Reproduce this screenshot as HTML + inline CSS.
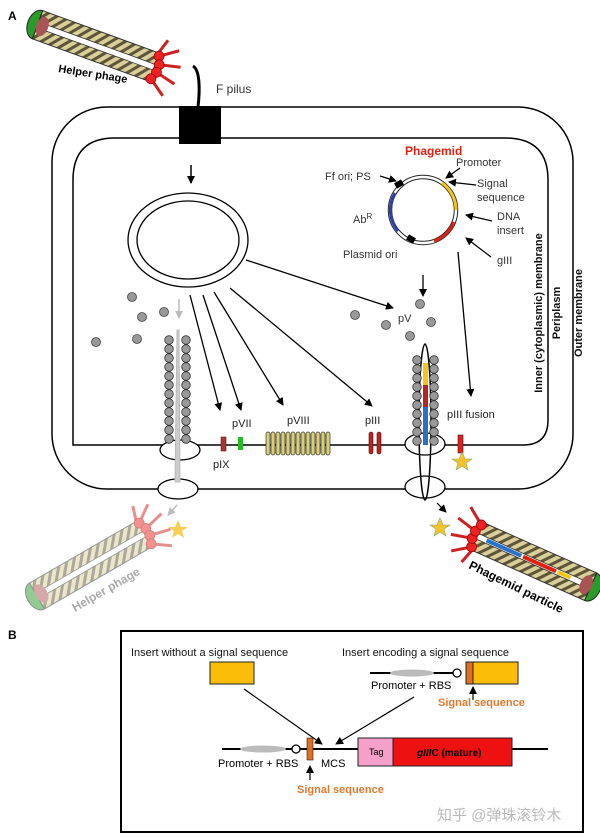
<!DOCTYPE html>
<html><head><meta charset="utf-8"><style>
body{margin:0;background:#fff}
svg{display:block}
text{font-family:"Liberation Sans","Noto Sans CJK SC",sans-serif}
</style></head><body>
<svg width="600" height="837" viewBox="0 0 600 837" xmlns="http://www.w3.org/2000/svg">
<defs>
<marker id="ah" markerWidth="8" markerHeight="8" refX="7" refY="4" orient="auto" markerUnits="userSpaceOnUse"><path d="M0,0 L8,4 L0,8 z" fill="#000"/></marker>
<marker id="ahg" markerWidth="8" markerHeight="8" refX="7" refY="4" orient="auto" markerUnits="userSpaceOnUse"><path d="M0,0 L8,4 L0,8 z" fill="#bbb"/></marker>
<pattern id="hatch" width="7" height="7" patternUnits="userSpaceOnUse" patternTransform="rotate(40)"><rect width="7" height="7" fill="#d8cf9a"/><rect width="3" height="7" fill="#5e5538"/></pattern>
<g id="phage">
<rect x="8" y="-15" width="125" height="30" fill="url(#hatch)" stroke="#333" stroke-width="1"/>
<rect x="10" y="-3" width="122" height="6" fill="#fff" stroke="#333" stroke-width="0.8"/>
<path d="M8,-15 A10,15 0 0 0 8,15 Z" fill="#2a9a2a" stroke="#222"/>
<ellipse cx="13" cy="0" rx="6" ry="10" fill="#a55"/>
<g fill="#e22" stroke="#900" stroke-width="0.8">
<line x1="133" y1="-12" x2="150" y2="-24" stroke="#c22" stroke-width="3"/>
<line x1="136" y1="-4" x2="157" y2="-9" stroke="#c22" stroke-width="3"/>
<line x1="136" y1="4" x2="157" y2="9" stroke="#c22" stroke-width="3"/>
<line x1="133" y1="12" x2="150" y2="24" stroke="#c22" stroke-width="3"/>
<line x1="131" y1="-14" x2="136" y2="-30" stroke="#c22" stroke-width="3"/>
<circle cx="133" cy="-12" r="5"/><circle cx="136" cy="-4" r="5"/><circle cx="136" cy="4" r="5"/><circle cx="133" cy="12" r="5"/>
</g>
</g>
</defs>

<text x="8" y="20" font-size="12" font-weight="bold">A</text>
<use href="#phage" transform="translate(30,22) rotate(20)"/>
<text x="58" y="72" font-size="11" font-weight="bold" transform="rotate(9 58 72)">Helper phage</text>
<path d="M193,66 C200,70 200,90 198,107" stroke="#000" stroke-width="3" fill="none"/>
<text x="216" y="93" font-size="12" fill="#333">F pilus</text>

<rect x="52" y="107" width="521" height="382" rx="55" fill="none" stroke="#000" stroke-width="1.5"/>
<path d="M73,445 L73,180 Q73,138 115,138 L505,138 Q548,138 548,180 L548,420 Q548,445 523,445 Z" fill="none" stroke="#000" stroke-width="1.5"/>
<rect x="179" y="106" width="42" height="38" fill="#000"/>
<line x1="191" y1="165" x2="191" y2="183" stroke="#000" stroke-width="1.5" marker-end="url(#ah)"/>

<ellipse cx="188" cy="240" rx="60" ry="47" fill="#fff" stroke="#000" stroke-width="1.3"/>
<ellipse cx="188" cy="240" rx="51" ry="39" fill="none" stroke="#000" stroke-width="1.3"/>

<g stroke="#000" stroke-width="1.3" fill="none" marker-end="url(#ah)">
<line x1="190" y1="295" x2="220" y2="410"/>
<line x1="203" y1="295" x2="241" y2="410"/>
<line x1="214" y1="292" x2="283" y2="405"/>
<line x1="230" y1="288" x2="372" y2="406"/>
<line x1="246" y1="260" x2="393" y2="308"/>
<line x1="423" y1="275" x2="423" y2="296"/>
<line x1="458" y1="252" x2="471" y2="396"/>
</g>

<g fill="#999" stroke="#444" stroke-width="0.8">
<circle cx="132" cy="297" r="4.5"/><circle cx="142" cy="317" r="4.5"/><circle cx="164" cy="312" r="4.5"/><circle cx="137" cy="339" r="4.5"/><circle cx="96" cy="342" r="4.5"/>
<circle cx="355" cy="315" r="4.5"/><circle cx="386" cy="325" r="4.5"/><circle cx="420" cy="304" r="4.5"/><circle cx="431" cy="322" r="4.5"/><circle cx="410" cy="336" r="4.5"/>
</g>
<text x="398" y="322" font-size="11" fill="#333">pV</text>

<ellipse cx="180" cy="450" rx="20" ry="10" fill="#fff" stroke="#000" stroke-width="1.3"/>
<ellipse cx="178" cy="489" rx="20" ry="10" fill="#fff" stroke="#000" stroke-width="1.3"/>
<g fill="#999" stroke="#333" stroke-width="0.8">
<circle cx="169" cy="340" r="4.3"/><circle cx="169" cy="349" r="4.3"/><circle cx="169" cy="358" r="4.3"/><circle cx="169" cy="367" r="4.3"/><circle cx="169" cy="376" r="4.3"/><circle cx="169" cy="385" r="4.3"/><circle cx="169" cy="394" r="4.3"/><circle cx="169" cy="403" r="4.3"/><circle cx="169" cy="412" r="4.3"/><circle cx="169" cy="421" r="4.3"/><circle cx="169" cy="430" r="4.3"/><circle cx="169" cy="439" r="4.3"/>
<circle cx="186" cy="340" r="4.3"/><circle cx="186" cy="349" r="4.3"/><circle cx="186" cy="358" r="4.3"/><circle cx="186" cy="367" r="4.3"/><circle cx="186" cy="376" r="4.3"/><circle cx="186" cy="385" r="4.3"/><circle cx="186" cy="394" r="4.3"/><circle cx="186" cy="403" r="4.3"/><circle cx="186" cy="412" r="4.3"/><circle cx="186" cy="421" r="4.3"/><circle cx="186" cy="430" r="4.3"/><circle cx="186" cy="439" r="4.3"/>
</g>
<path d="M177,330 L175,482 L180,482 L179,330 Z" fill="#ccc" stroke="#bbb"/>
<line x1="179" y1="299" x2="179" y2="318" stroke="#bbb" stroke-width="1.5" marker-end="url(#ahg)"/>
<line x1="177" y1="505" x2="168" y2="515" stroke="#bbb" stroke-width="1.5" marker-end="url(#ahg)"/>

<rect x="221" y="437" width="5" height="14" fill="#a33" stroke="#522" stroke-width="0.6"/>
<rect x="238" y="437" width="5" height="13" fill="#2b2"/>
<g fill="#d8cf7a" stroke="#333" stroke-width="0.7">
<rect x="266" y="432" width="4" height="23" rx="2"/><rect x="271" y="432" width="4" height="23" rx="2"/><rect x="276" y="432" width="4" height="23" rx="2"/><rect x="281" y="432" width="4" height="23" rx="2"/><rect x="286" y="432" width="4" height="23" rx="2"/><rect x="291" y="432" width="4" height="23" rx="2"/><rect x="296" y="432" width="4" height="23" rx="2"/><rect x="301" y="432" width="4" height="23" rx="2"/><rect x="306" y="432" width="4" height="23" rx="2"/><rect x="311" y="432" width="4" height="23" rx="2"/><rect x="316" y="432" width="4" height="23" rx="2"/><rect x="321" y="432" width="4" height="23" rx="2"/><rect x="326" y="432" width="4" height="23" rx="2"/>
</g>
<rect x="369" y="432" width="4" height="22" rx="2" fill="#b22" stroke="#511" stroke-width="0.6"/>
<rect x="377" y="432" width="4" height="22" rx="2" fill="#b22" stroke="#511" stroke-width="0.6"/>
<g font-size="11" fill="#222">
<text x="232" y="427">pVII</text><text x="287" y="424">pVIII</text><text x="365" y="424">pIII</text><text x="213" y="468">pIX</text>
<text x="447" y="418">pIII fusion</text>
</g>

<ellipse cx="425" cy="444" rx="20" ry="11" fill="#fff" stroke="#000" stroke-width="1.3"/>
<ellipse cx="425" cy="487" rx="20" ry="11" fill="#fff" stroke="#000" stroke-width="1.3"/>
<ellipse cx="425" cy="422" rx="6" ry="78" fill="none" stroke="#000" stroke-width="1.5"/>
<g fill="#999" stroke="#333" stroke-width="0.8">
<circle cx="417" cy="360" r="4.3"/><circle cx="417" cy="369" r="4.3"/><circle cx="417" cy="378" r="4.3"/><circle cx="417" cy="387" r="4.3"/><circle cx="417" cy="396" r="4.3"/><circle cx="417" cy="405" r="4.3"/><circle cx="417" cy="414" r="4.3"/><circle cx="417" cy="423" r="4.3"/><circle cx="417" cy="432" r="4.3"/><circle cx="417" cy="441" r="4.3"/>
<circle cx="434" cy="360" r="4.3"/><circle cx="434" cy="369" r="4.3"/><circle cx="434" cy="378" r="4.3"/><circle cx="434" cy="387" r="4.3"/><circle cx="434" cy="396" r="4.3"/><circle cx="434" cy="405" r="4.3"/><circle cx="434" cy="414" r="4.3"/><circle cx="434" cy="423" r="4.3"/><circle cx="434" cy="432" r="4.3"/><circle cx="434" cy="441" r="4.3"/>
</g>
<rect x="423" y="363" width="5" height="22" fill="#f5c518"/>
<rect x="423" y="385" width="5" height="22" fill="#b22"/>
<rect x="423" y="407" width="5" height="38" fill="#2a72c8"/>
<rect x="458" y="435" width="5" height="18" fill="#d22" stroke="#511" stroke-width="0.6"/>
<polygon points="462,452 465,459 472,459 466,463 468,470 462,466 456,470 458,463 452,459 459,459" fill="#f7c22a" stroke="#8a6" stroke-width="0.6"/>

<text x="405" y="155" font-size="12" font-weight="bold" fill="#d21">Phagemid</text>
<circle cx="423" cy="210" r="33" fill="none" stroke="#222" stroke-width="4.5"/>
<circle cx="423" cy="210" r="33" fill="none" stroke="#fff" stroke-width="2.5"/>
<path d="M456,210 A33,33 0 0 0 442,183" fill="none" stroke="#f5c518" stroke-width="3"/>
<path d="M434,241 A33,33 0 0 0 454,222" fill="none" stroke="#d21" stroke-width="3"/>
<path d="M395,193 A33,33 0 0 0 398,231" fill="none" stroke="#2a3fb0" stroke-width="3"/>
<rect x="395" y="181" width="8" height="6" fill="#000" transform="rotate(-30 399 184)"/>
<rect x="407" y="236" width="8" height="6" fill="#000" transform="rotate(30 411 239)"/>
<g font-size="11" fill="#333">
<text x="325" y="180">Ff ori; PS</text>
<text x="456" y="166">Promoter</text>
<text x="477" y="187">Signal</text><text x="477" y="201">sequence</text>
<text x="497" y="220">DNA</text><text x="497" y="234">insert</text>
<text x="497" y="264">gIII</text>
<text x="353" y="223">Ab<tspan font-size="8" dy="-4">R</tspan></text>
<text x="343" y="258">Plasmid ori</text>
</g>
<g stroke="#000" stroke-width="1.2" marker-end="url(#ah)">
<line x1="380" y1="176" x2="396" y2="181"/>
<line x1="460" y1="168" x2="446" y2="178"/>
<line x1="476" y1="185" x2="449" y2="182"/>
<line x1="492" y1="221" x2="466" y2="215"/>
<line x1="491" y1="257" x2="466" y2="238"/>
</g>

<g font-size="11" font-weight="bold" fill="#111">
<text transform="translate(542,313) rotate(-90)" text-anchor="middle">Inner (cytoplasmic) membrane</text>
<text transform="translate(560,313) rotate(-90)" text-anchor="middle">Periplasm</text>
<text transform="translate(582,313) rotate(-90)" text-anchor="middle">Outer membrane</text>
</g>

<g opacity="0.5"><use href="#phage" transform="translate(30,600) rotate(-30)"/></g>
<polygon points="178,520 181,527 188,527 182,531 184,538 178,534 172,538 174,531 168,527 175,527" fill="#f7c22a" opacity="0.8"/>
<text x="75" y="612" font-size="12" fill="#aaa" font-weight="bold" transform="rotate(-30 75 612)">Helper phage</text>

<use href="#phage" transform="translate(598,590) rotate(204)"/>
<g transform="translate(598,590) rotate(204)">
<rect x="30" y="-2" width="14" height="4" fill="#f5c518"/>
<rect x="46" y="-2" width="36" height="4" fill="#d21"/>
<rect x="84" y="-2" width="38" height="4" fill="#2a72c8"/>
</g>
<polygon points="440,518 443,525 450,525 444,529 446,536 440,532 434,536 436,529 430,525 437,525" fill="#f7c22a" stroke="#8a6" stroke-width="0.6"/>
<line x1="437" y1="503" x2="446" y2="512" stroke="#000" stroke-width="1.2" marker-end="url(#ah)"/>
<text x="468" y="568" font-size="12" font-weight="bold" transform="rotate(26 468 568)">Phagemid particle</text>

<text x="8" y="639" font-size="12" font-weight="bold">B</text>
<rect x="121" y="631" width="462" height="201" fill="none" stroke="#000" stroke-width="2"/>
<g font-size="11" fill="#111">
<text x="131" y="656">Insert without a signal sequence</text>
<text x="342" y="656">Insert encoding a signal sequence</text>
</g>
<rect x="210" y="662" width="44" height="22" fill="#fbbd08" stroke="#222"/>
<line x1="370" y1="673" x2="455" y2="673" stroke="#000" stroke-width="2"/>
<ellipse cx="412" cy="673" rx="22" ry="3.5" fill="#bbb"/>
<circle cx="457" cy="673" r="4" fill="#fff" stroke="#000" stroke-width="1.3"/>
<rect x="466" y="662" width="7" height="22" fill="#e07020" stroke="#222"/>
<rect x="473" y="662" width="45" height="22" fill="#fbbd08" stroke="#222"/>
<text x="371" y="689" font-size="11">Promoter + RBS</text>
<line x1="473" y1="700" x2="473" y2="687" stroke="#000" stroke-width="1.2" marker-end="url(#ah)"/>
<text x="438" y="706" font-size="11" font-weight="bold" fill="#e07a30">Signal sequence</text>

<line x1="244" y1="689" x2="322" y2="744" stroke="#000" stroke-width="1.2" marker-end="url(#ah)"/>
<line x1="414" y1="697" x2="336" y2="744" stroke="#000" stroke-width="1.2" marker-end="url(#ah)"/>

<line x1="222" y1="749" x2="548" y2="749" stroke="#000" stroke-width="2"/>
<ellipse cx="263" cy="749" rx="23" ry="3.5" fill="#bbb"/>
<circle cx="296" cy="749" r="4" fill="#fff" stroke="#000" stroke-width="1.3"/>
<rect x="307" y="738" width="6" height="22" fill="#e07020" stroke="#222" stroke-width="0.6"/>
<rect x="358" y="738" width="35" height="28" fill="#f5a0c8" stroke="#222"/>
<rect x="393" y="738" width="119" height="28" fill="#ee1111" stroke="#222"/>
<text x="369" y="755" font-size="9">Tag</text>
<text x="417" y="756" font-size="10" font-weight="bold"><tspan font-style="italic">gIII</tspan>C (mature)</text>
<text x="218" y="767" font-size="11">Promoter + RBS</text>
<text x="321" y="767" font-size="11">MCS</text>
<line x1="310" y1="780" x2="310" y2="766" stroke="#000" stroke-width="1.2" marker-end="url(#ah)"/>
<text x="297" y="793" font-size="11" font-weight="bold" fill="#e07a30">Signal sequence</text>
<text x="437" y="820" font-size="15" fill="#bbb">知乎 @弹珠滚铃木</text>
</svg>
</body></html>
